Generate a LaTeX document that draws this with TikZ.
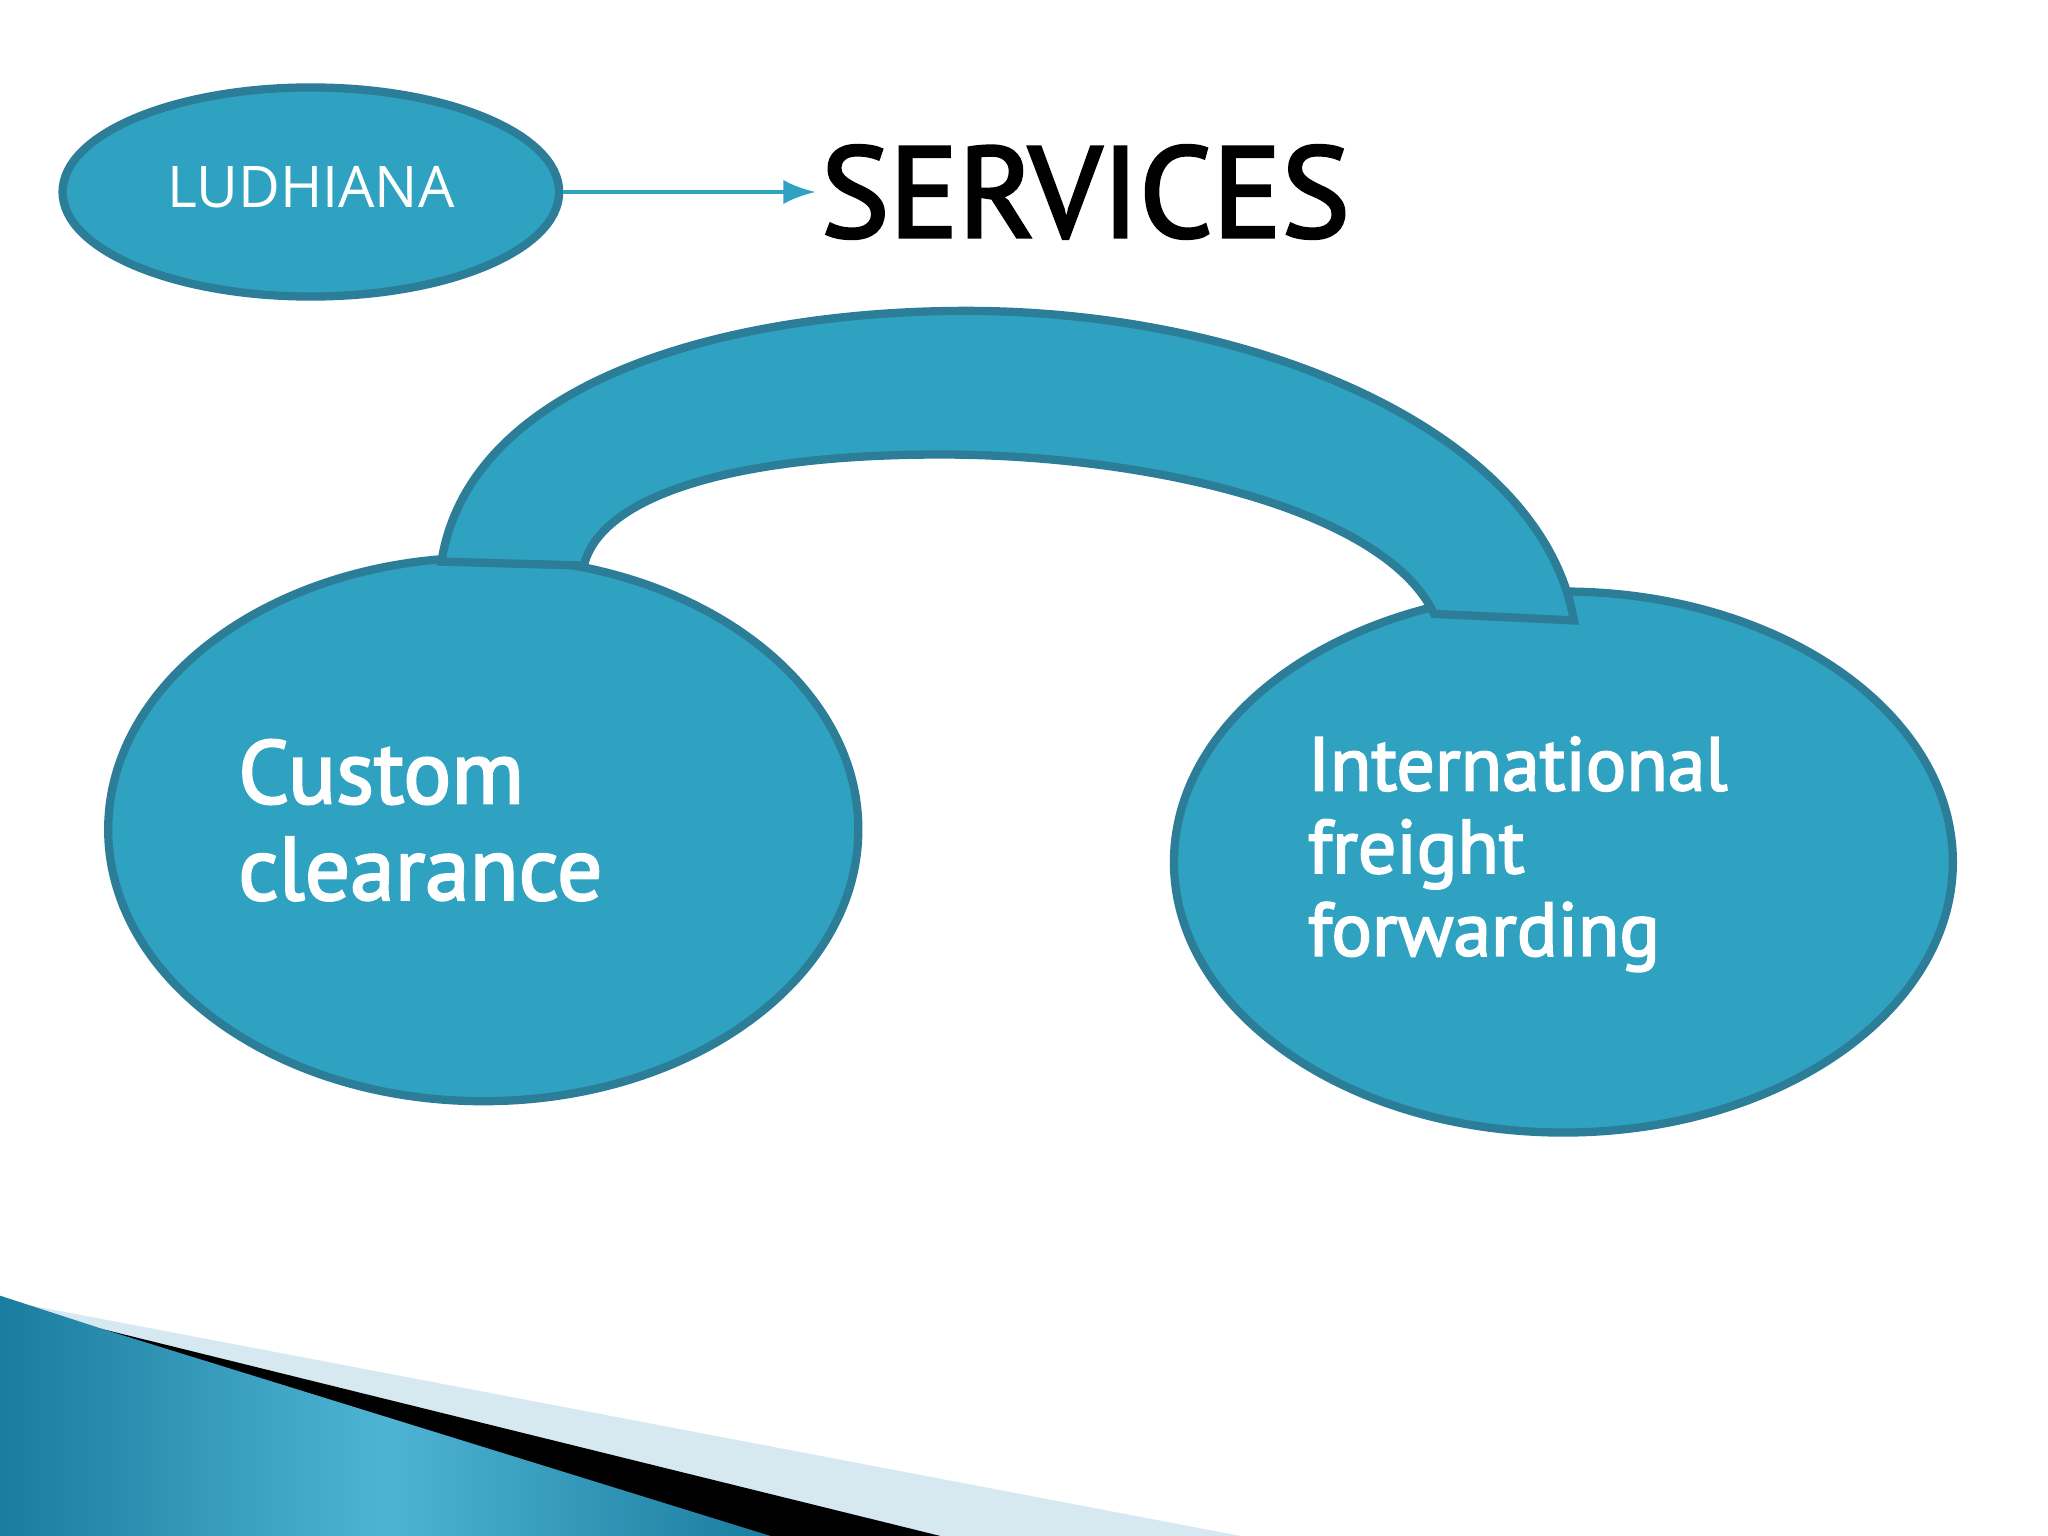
\documentclass[tikz,border=0pt]{standalone}
\usepackage{fontspec}
\setmainfont{Open Sans}
\newfontfamily\headfont[FakeBold=2.5]{PT Sans}
\usetikzlibrary{arrows.meta,shapes.geometric}
\definecolor{fillc}{HTML}{2EA2C0}
\definecolor{edgec}{HTML}{2B7D98}
\definecolor{lightc}{HTML}{D6E8F0}
\definecolor{darkt}{HTML}{1A7C9E}
\definecolor{midt}{HTML}{4FB4D4}
\tikzset{blob/.style={ellipse,fill=fillc,draw=edgec,line width=1.8pt,inner sep=0pt},
  lbl/.style={text=white,align=left,anchor=west}}
\begin{document}
\begin{tikzpicture}[x=0.01cm,y=-0.01cm]
\useasboundingbox (0,0) rectangle (1568,1176);
% bottom decoration
\fill[lightc] (0,995) -- (950,1176) -- (0,1176) -- cycle;
\fill[black] (0,998) -- (80,1018) -- (720,1176) -- (0,1176) -- cycle;
\shade[left color=darkt,right color=darkt,middle color=midt] (0,992) -- (80,1018) -- (590,1176) -- (0,1176) -- cycle;
\node[blob,minimum width=3.8cm,minimum height=1.6cm] (lud) at (238,147) {};
\node[text=white,font=\fontsize{12.5}{15}\selectfont] (ludt) at (238,143) {LUDHIANA};
\node[font=\headfont\fontsize{28}{34}\selectfont,text=black,inner sep=1pt] (serv) at (831,147) {SERVICES};
\draw[-{Latex[length=7pt]},fillc,line width=0.8pt] (lud.east) -- (serv.west);
\node[blob,minimum width=5.74cm,minimum height=4.16cm] (cce) at (370,635) {};
\node[blob,minimum width=5.96cm,minimum height=4.14cm] (iffe) at (1197,660) {};
% arch
\path[fill=fillc,draw=edgec,line width=1.8pt] (338,430) .. controls (360,290) and (560,238) .. (740,238)
  .. controls (960,238) and (1180,330) .. (1205,475) -- (1098,470)
  .. controls (1060,390) and (880,348) .. (720,348)
  .. controls (560,348) and (460,380) .. (447,433) -- cycle;
\node[lbl,font=\headfont\fontsize{19.5}{21}\selectfont] (cc) at (170,628) {Custom\\clearance};
\node[lbl,font=\headfont\fontsize{16.5}{18}\selectfont] (iff) at (989,654) {International\\freight\\forwarding};
\end{tikzpicture}
\end{document}
